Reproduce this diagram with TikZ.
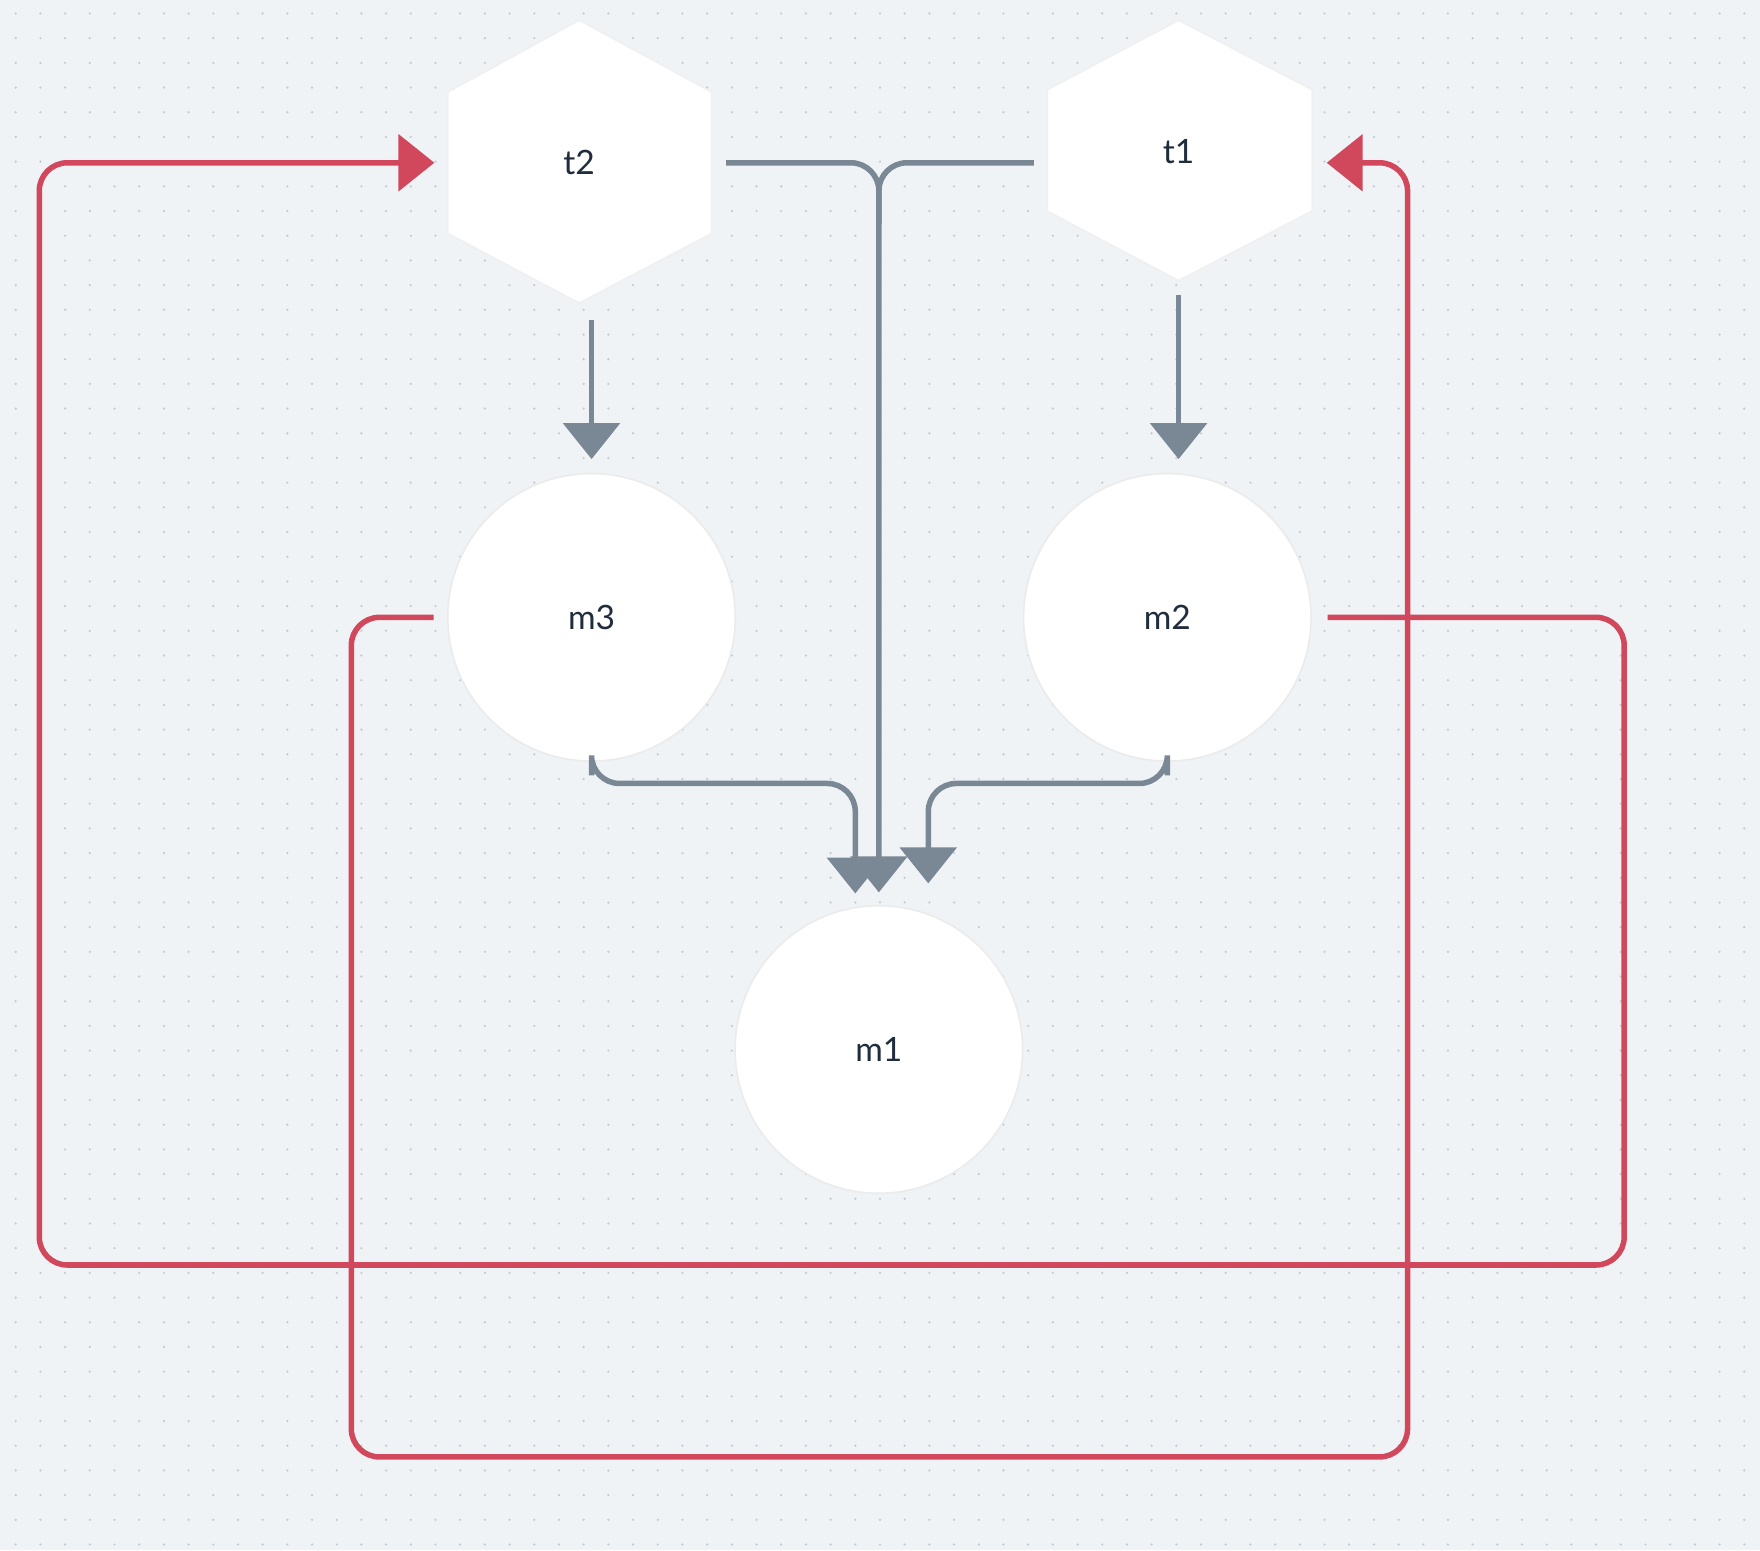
\documentclass[tikz,border=0pt]{standalone}
\usepackage{fontspec}
\setmainfont{Lato}
\usetikzlibrary{arrows.meta,calc}
\definecolor{bg}{HTML}{EFF3F6}
\definecolor{dotc}{HTML}{C3CAD2}
\definecolor{gl}{HTML}{7A8794}
\definecolor{rl}{HTML}{D1475C}
\definecolor{tx}{HTML}{1F2D3D}
\tikzset{
  lbl/.style={text=tx,font=\fontsize{8.5}{10}\selectfont},
  circ/.style={circle,fill=white,draw=black!8,line width=0.4pt,minimum size=2.56cm,lbl},
  hexa/.style={fill=white,draw=black!6,line width=0.4pt},
  gline/.style={draw=gl,line width=1.4pt,rounded corners=0.25cm,-{Triangle[length=3.2mm,width=5mm]}},
  gplain/.style={draw=gl,line width=1.4pt,rounded corners=0.25cm},
  rline/.style={draw=rl,line width=1.4pt,rounded corners=0.25cm,-{Triangle[length=3.2mm,width=5mm]}},
}
\begin{document}
\begin{tikzpicture}[x=0.01cm,y=-0.01cm]
\fill[bg] (0,0) rectangle (1568,1381);
\useasboundingbox (0,0) rectangle (1568,1381);
\foreach \i in {0,...,70}{\foreach \j in {0,...,62}{\fill[dotc] (14+22*\i,12+22*\j) circle (1.1);}}
% hexagons
\path[hexa] (516,18)--(634,82)--(634,208)--(516,270)--(399,208)--(399,82)--cycle;
\path[hexa] (1050,18)--(1169,80)--(1169,188)--(1050,250)--(933,188)--(933,80)--cycle;
\node[lbl] (t2) at (516,145) {t2};
\node[lbl] (t1) at (1050,135) {t1};
\node[circ] (m3) at (527,550) {m3};
\node[circ] (m2) at (1040,550) {m2};
\node[circ] (m1) at (783,935) {m1};
\coordinate (t2r) at (647,145);
\coordinate (t2l) at (387,145);
\coordinate (t2b) at (527,285);
\coordinate (t1l) at (921,145);
\coordinate (t1r) at (1182,145);
\coordinate (t1b) at (1050,263);
% gray
\draw[gline] (t2b) -- (527,409);
\draw[gline] (t1b) -- (1050,409);
\draw[gline] (t2r) -- (783,145) -- (783,795);
\draw[gplain] (t1l) -- (783,145) -- (783,200);
\draw[gline] ($(m3.south)+(0,12)$) -- (527,698) -- (762,698) -- (762,796);
\draw[gline] ($(m2.south)+(0,12)$) -- (1040,698) -- (827,698) -- (827,787);
% red
\draw[rline] ($(m2.east)+(14,0)$) -- (1447,550) -- (1447,1127) -- (35,1127) -- (35,145) -- (t2l);
\draw[rline] ($(m3.west)+(-12,0)$) -- (313,550) -- (313,1298) -- (1254,1298) -- (1254,145) -- (t1r);
\end{tikzpicture}
\end{document}
